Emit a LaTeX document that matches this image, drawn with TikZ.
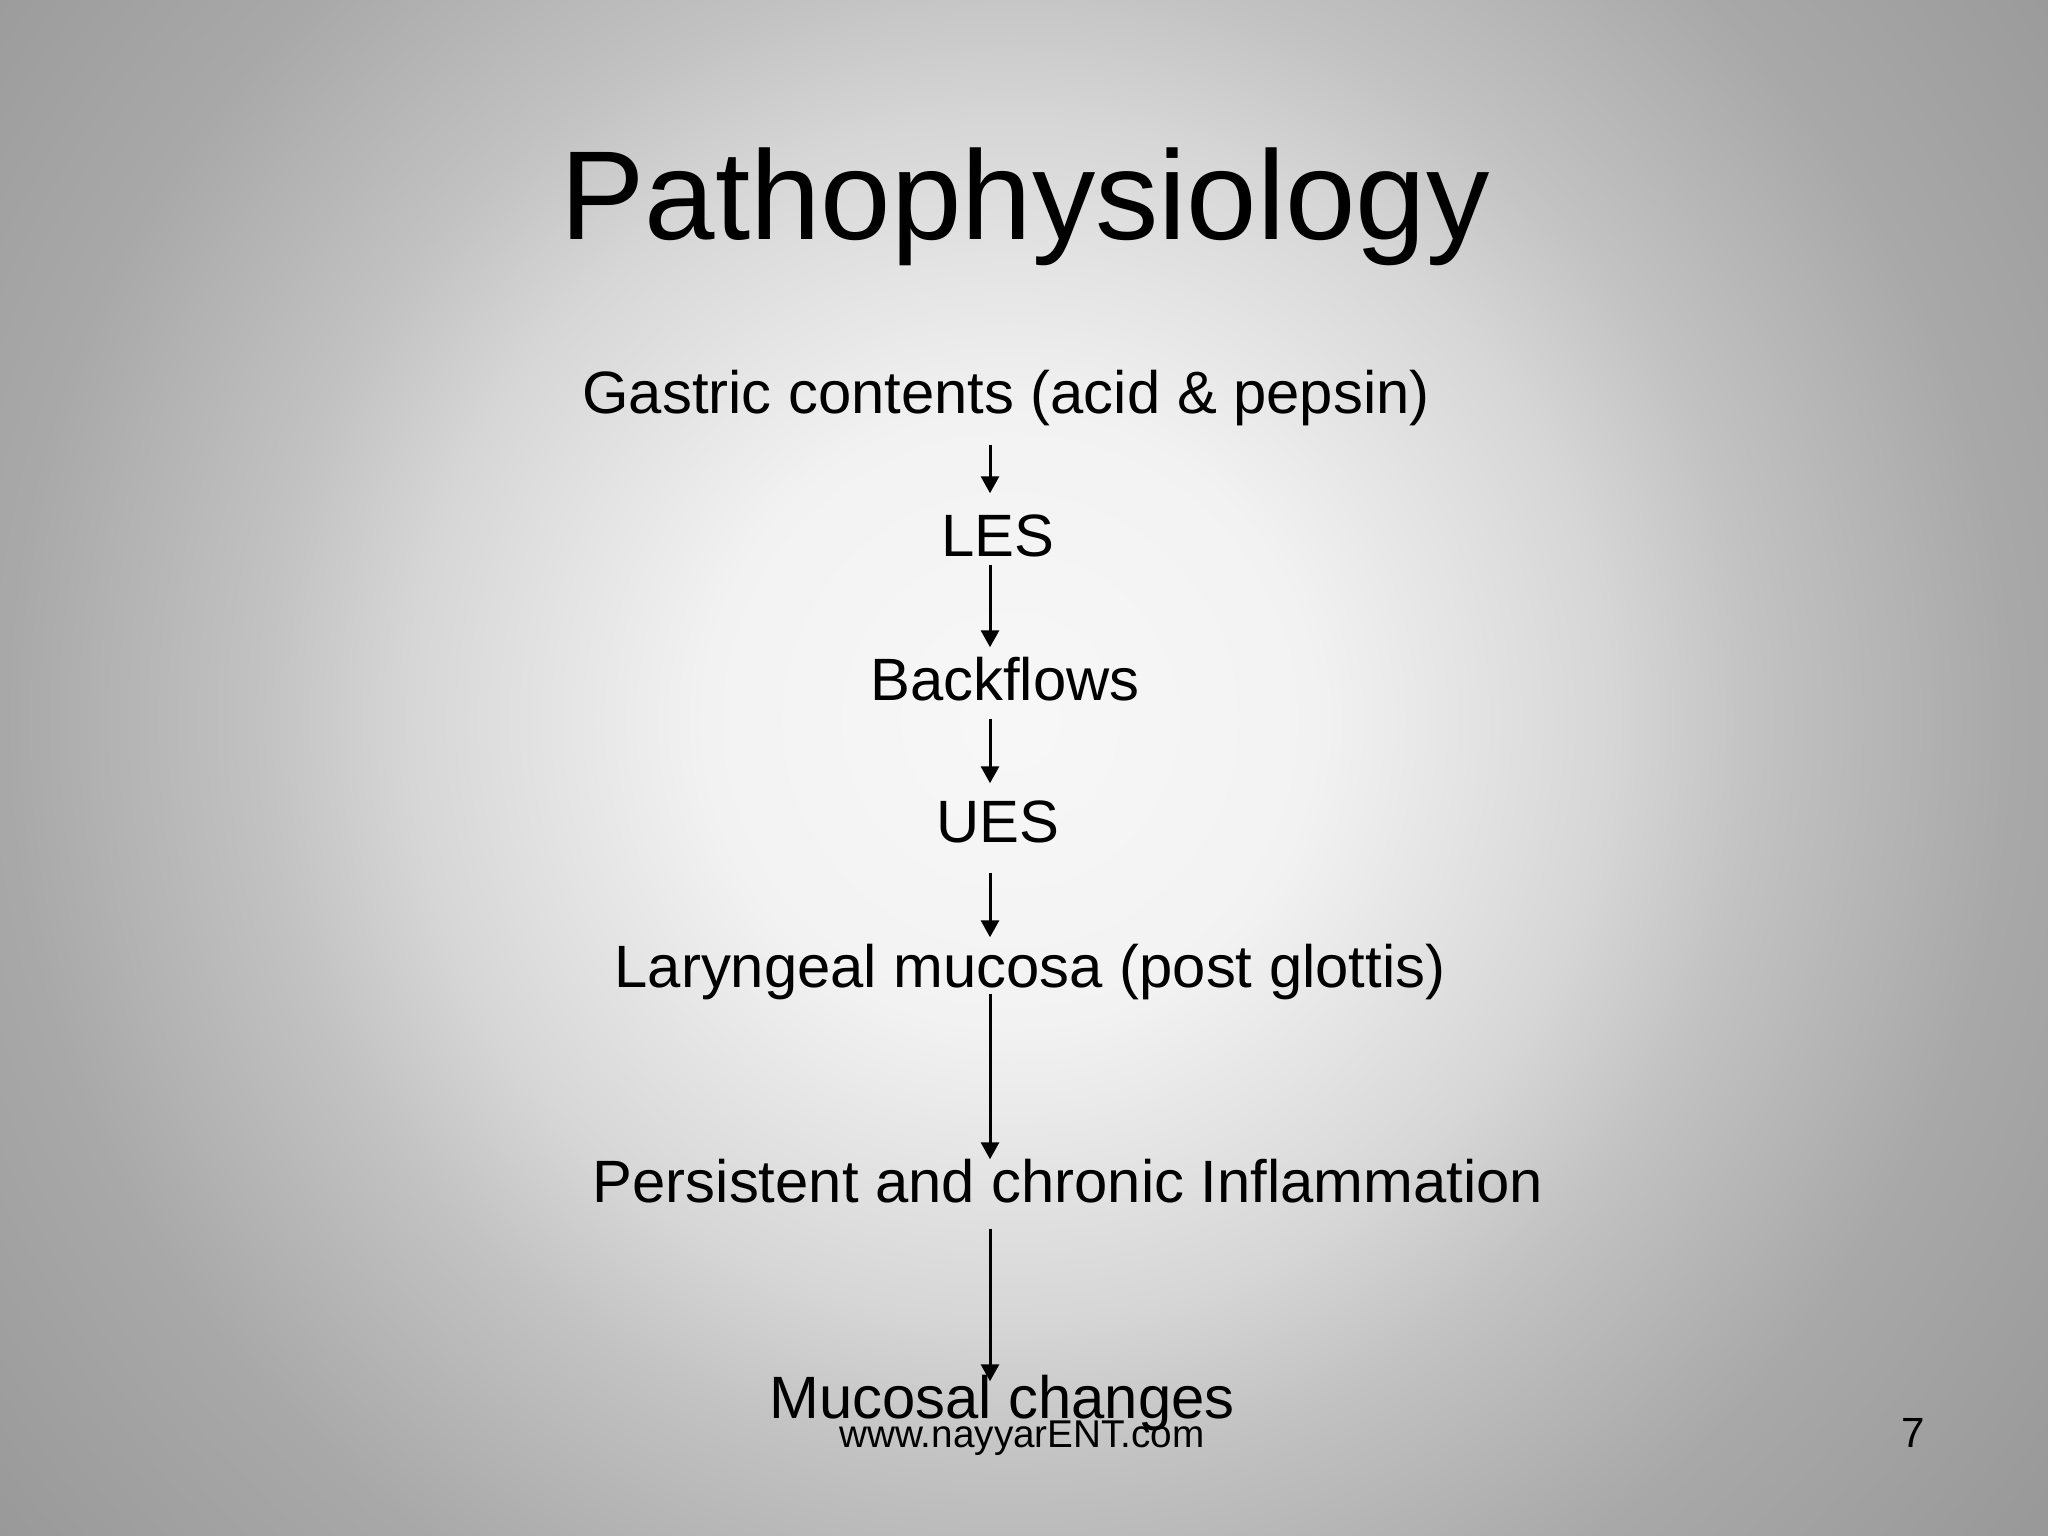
\documentclass[tikz,border=0pt]{standalone}
\usepackage{fontspec}
\setmainfont{Liberation Sans}
\usetikzlibrary{arrows.meta}
\pgfdeclareradialshading{slidebg}{\pgfpoint{0bp}{0bp}}{color(0bp)=(white!97!black); color(5.4bp)=(white!95!black); color(10.7bp)=(white!84!black); color(13.4bp)=(white!76!black); color(17.9bp)=(white!66!black); color(23.2bp)=(white!60!black); color(25bp)=(white!59!black); color(50bp)=(white!59!black)}
\begin{document}
\begin{tikzpicture}[x=0.01cm, y=-0.01cm,
  step text/.style={anchor=base, inner sep=0pt, font=\fontsize{17pt}{20pt}\selectfont, text height=0.45cm, text depth=0.13cm},
  flow/.style={-{Triangle[width=0.18cm, length=0.17cm]}, line width=0.85pt}]
\useasboundingbox (0,0) rectangle (2048,1536);
\begin{scope}
\clip (0,0) rectangle (2048,1536);
\shade[shading=slidebg] (-390,-680) rectangle (2410,2120);
\end{scope}
\node[anchor=base, inner sep=0pt, font=\fontsize{36pt}{40pt}\selectfont] (title) at (1025,239) {Pathophysiology};
\node[step text] (gastric) at (1006,413) {Gastric contents (acid \& pepsin)};
\node[step text] (les) at (998,556) {LES};
\node[step text] (backflow) at (1005,700) {Backflows};
\node[step text] (ues) at (998,842) {UES};
\node[step text] (larynx) at (1030,987) {Laryngeal mucosa (post glottis)};
\node[step text] (inflam) at (1068,1202) {Persistent and chronic Inflammation};
\node[step text] (mucosal) at (1002,1418) {Mucosal changes};
\node[anchor=base, inner sep=0pt, font=\fontsize{11pt}{13pt}\selectfont] (web) at (1022,1447) {www.nayyarENT.com};
\node[anchor=base, inner sep=0pt, font=\fontsize{12pt}{14pt}\selectfont] (page) at (1913,1447) {7};
\coordinate (spine) at (990,0);
\draw[flow, shorten <=0.18cm, shorten >=0.17cm] (gastric.south -| spine) -- (les.north -| spine);
\draw[flow, shorten <=-0.05cm, shorten >=0.07cm] (les.south -| spine) -- (backflow.north -| spine);
\draw[flow, shorten <=0.05cm, shorten >=0.13cm] (backflow.south -| spine) -- (ues.north -| spine);
\draw[flow, shorten <=0.17cm, shorten >=0.04cm] (ues.south -| spine) -- (larynx.north -| spine);
\draw[flow, shorten <=-0.07cm, shorten >=-0.03cm] (larynx.south -| spine) -- (inflam.north -| spine);
\draw[flow, shorten <=0.13cm, shorten >=-0.09cm] (inflam.south -| spine) -- (mucosal.north -| spine);
\end{tikzpicture}
\end{document}
